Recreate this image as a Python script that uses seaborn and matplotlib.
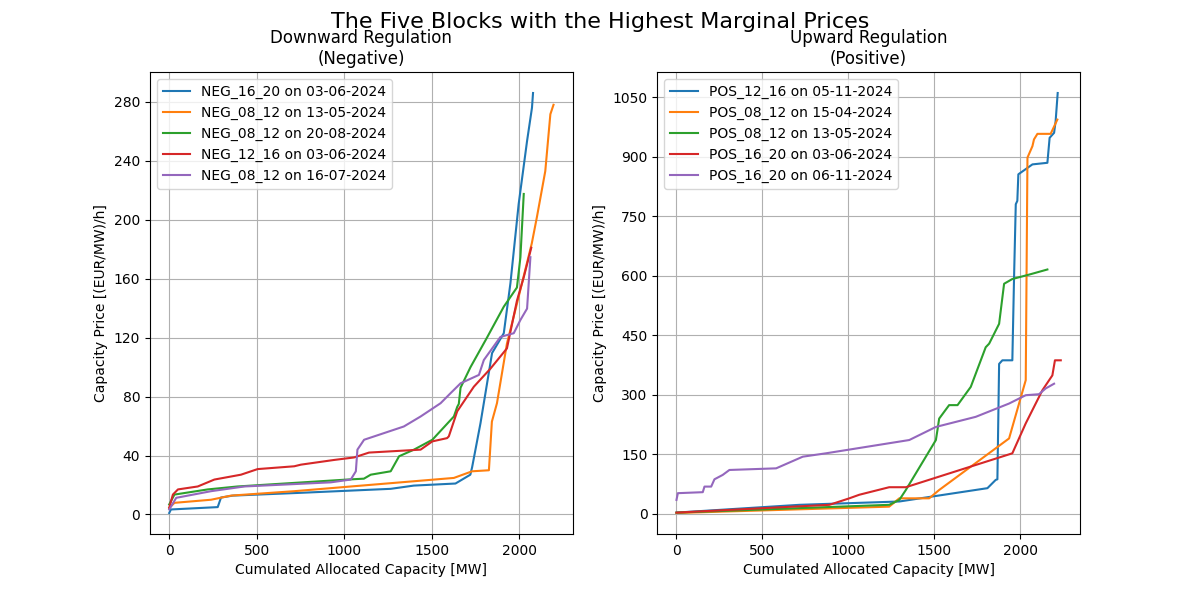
import pandas as pd
import matplotlib.pyplot as plt
import seaborn as sns

# Downward regulation (negative) blocks: cumulated MW and capacity price
neg_labels = ['NEG_16_20 on 03-06-2024', 'NEG_08_12 on 13-05-2024', 'NEG_08_12 on 20-08-2024',
              'NEG_12_16 on 03-06-2024', 'NEG_08_12 on 16-07-2024']
neg_mw = [
    [0, 10, 277, 296, 363, 752, 1265, 1397, 1635, 1720, 1730, 1778, 1844, 1911, 1949, 1996, 2044, 2072, 2078],
    [0, 30, 239, 353, 714, 1626, 1730, 1826, 1843, 1872, 1929, 1986, 2071, 2100, 2148, 2177, 2195],
    [0, 30, 220, 390, 1017, 1112, 1151, 1265, 1313, 1398, 1503, 1626, 1645, 1654, 1664, 1721, 1815, 1911, 1986, 2006, 2025],
    [0, 21, 50, 163, 258, 410, 505, 714, 752, 942, 1056, 1141, 1436, 1503, 1587, 1597, 1645, 1740, 1835, 1929, 1986, 2025, 2068],
    [0, 40, 239, 429, 923, 1037, 1066, 1075, 1113, 1340, 1436, 1550, 1607, 1664, 1769, 1797, 1892, 1968, 2006, 2044, 2063],
]
neg_price = [
    [1, 3.4, 5, 11.5, 12.8, 14.7, 17.4, 19.6, 21, 27, 32, 62, 109.5, 123, 157, 210.7, 253.5, 276, 286],
    [4.5, 7.9, 10, 12.8, 15.8, 24.8, 29.3, 30, 63, 75.5, 116, 143, 184, 201.7, 233, 271.6, 278],
    [6.8, 13.5, 17, 19, 23.7, 24.3, 27, 29.3, 39.5, 44, 50.7, 66.5, 73, 75, 86, 100, 120, 141, 154, 174.6, 217.5],
    [4.5, 13.5, 17, 19, 23.7, 27, 30.8, 32.7, 33.8, 37, 38.7, 42, 44, 49.6, 51.8, 53, 70, 86.7, 99, 112.7, 145, 161, 181],
    [3.4, 11.3, 15.8, 19, 21.8, 23.7, 29.3, 44, 50.7, 59.7, 66.5, 75.5, 82.3, 89, 94.7, 104.8, 120.5, 123, 132, 139.7, 174.6],
]

# Upward regulation (positive) blocks
pos_labels = ['POS_12_16 on 05-11-2024', 'POS_08_12 on 15-04-2024', 'POS_08_12 on 13-05-2024',
              'POS_16_20 on 03-06-2024', 'POS_16_20 on 06-11-2024']
pos_mw = [
    [0, 715, 1297, 1810, 1858, 1868, 1878, 1897, 1955, 1965, 1975, 1984, 1990, 2072, 2159, 2172, 2198, 2207, 2219],
    [0, 1238, 1297, 1471, 1529, 1936, 2033, 2043, 2072, 2081, 2101, 2178, 2217],
    [0, 1238, 1297, 1335, 1510, 1519, 1529, 1587, 1636, 1713, 1800, 1820, 1878, 1907, 1955, 2052, 2159],
    [0, 676, 890, 1006, 1064, 1238, 1335, 1955, 2033, 2130, 2188, 2203, 2237],
    [0, 8, 153, 163, 202, 221, 269, 308, 580, 735, 870, 1355, 1510, 1742, 1936, 2033, 2110, 2149, 2198],
]
pos_price = [
    [3, 22.6, 31, 64.6, 85.4, 87, 378, 387, 387, 596, 780.6, 789, 856, 881, 885, 948, 960.6, 990, 1061],
    [2, 18, 39, 39, 60, 190, 337, 898, 927, 944, 958, 958, 994],
    [3, 22.6, 35, 60, 186, 211, 240, 274, 274, 320, 420, 429, 479, 580, 592, 603, 616],
    [3, 18, 22.6, 39, 48, 67, 67, 152.5, 228, 311.6, 349, 387, 387],
    [35, 52, 54.5, 68.6, 68.6, 87, 98, 110.5, 114.6, 144, 152.5, 186, 219, 244.5, 278, 299, 301.5, 316, 328],
]


def to_frame(labels, mws, prices):
    parts = []
    for lab, x, y in zip(labels, mws, prices):
        parts.append(pd.DataFrame({'MW': x, 'Price': y, 'Block': lab}))
    return pd.concat(parts, ignore_index=True)


neg_df = to_frame(neg_labels, neg_mw, neg_price)
pos_df = to_frame(pos_labels, pos_mw, pos_price)

fig, axes = plt.subplots(1, 2, figsize=(12, 6))
fig.suptitle('The Five Blocks with the Highest Marginal Prices', fontsize=16)

panels = [
    (axes[0], neg_df, 'Downward Regulation\n(Negative)', [0, 40, 80, 120, 160, 200, 240, 280]),
    (axes[1], pos_df, 'Upward Regulation\n(Positive)', [0, 150, 300, 450, 600, 750, 900, 1050]),
]
for ax, df, title, yticks in panels:
    sns.lineplot(data=df, x='MW', y='Price', hue='Block', estimator=None, sort=False,
                 palette='tab10', linewidth=1.5, ax=ax)
    ax.set_title(title, fontsize=12)
    ax.set_xlabel('Cumulated Allocated Capacity [MW]')
    ax.set_ylabel('Capacity Price [(EUR/MW)/h]')
    ax.set_yticks(yticks)
    ax.set_xticks([0, 500, 1000, 1500, 2000])
    ax.grid(True)
    ax.legend(loc='upper left', title=None)

plt.savefig('out.png', dpi=100)
